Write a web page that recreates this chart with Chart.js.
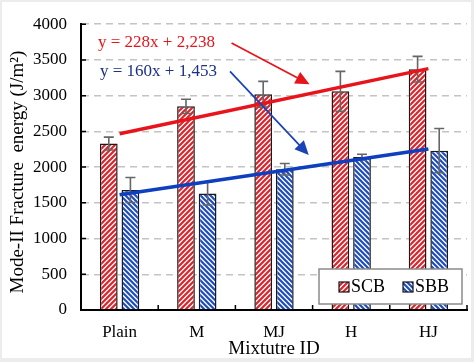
<!DOCTYPE html>
<html>
<head>
<meta charset="utf-8">
<script src="https://cdn.jsdelivr.net/npm/chart.js@4.4.1/dist/chart.umd.min.js"></script>
<style>
  html, body { margin: 0; padding: 0; background: #fff; }
  canvas { display: block; }
</style>
</head>
<body>
<canvas id="chart" width="474" height="362"></canvas>
<script>
// values
var categories = ['Plain', 'M', 'MJ', 'H', 'HJ'];
var scbValues = [2330, 2850, 3020, 3060, 3370];
var scbErrors = [90, 100, 180, 280, 180];
var sbbValues = [1680, 1630, 1970, 2140, 2230];
var sbbErrors = [175, 160, 80, 40, 310];
// trend lines, ends at Plain and HJ
var scbTrend = [2466, null, null, null, 3378];
var sbbTrend = [1613, null, null, null, 2253];
var yTicks = [0, 500, 1000, 1500, 2000, 2500, 3000, 3500, 4000];
var scbLabel = 'y = 228x + 2,238';
var sbbLabel = 'y = 160x + 1,453';

var SERIF = '"Liberation Serif", "DejaVu Serif", serif';
var RED = '#e8141b';
var BLUE = '#0d3fbf';

function makeStripes(color, flip) {
    var s = 5;
    var c = document.createElement('canvas');
    c.width = s; c.height = s;
    var g = c.getContext('2d');
    g.fillStyle = '#fff';
    g.fillRect(0, 0, s, s);
    g.strokeStyle = color;
    g.lineWidth = 2.2;
    if (flip) { g.translate(s, 0); g.scale(-1, 1); }
    g.beginPath();
    g.moveTo(0, s); g.lineTo(s, 0);
    g.moveTo(-1, 1); g.lineTo(1, -1);
    g.moveTo(s - 1, s + 1); g.lineTo(s + 1, s - 1);
    g.stroke();
    return document.getElementById('chart').getContext('2d').createPattern(c, 'repeat');
}

var scbFill = makeStripes('#e0222a', false);
var sbbFill = makeStripes('#1d4cc2', true);

function arrow(ctx, x1, y1, x2, y2, color) {
    var a = Math.atan2(y2 - y1, x2 - x1);
    var len = 14, w = 6.5;
    ctx.save();
    ctx.strokeStyle = color;
    ctx.fillStyle = color;
    ctx.lineWidth = 1.7;
    ctx.beginPath();
    ctx.moveTo(x1, y1);
    ctx.lineTo(x2 - Math.cos(a) * len * 0.8, y2 - Math.sin(a) * len * 0.8);
    ctx.stroke();
    ctx.beginPath();
    ctx.moveTo(x2, y2);
    ctx.lineTo(x2 - Math.cos(a) * len + Math.sin(a) * w, y2 - Math.sin(a) * len - Math.cos(a) * w);
    ctx.lineTo(x2 - Math.cos(a) * len - Math.sin(a) * w, y2 - Math.sin(a) * len + Math.cos(a) * w);
    ctx.closePath();
    ctx.fill();
    ctx.restore();
}

var extras = {
    id: 'extras',
    beforeDraw: function (chart) {
        var ctx = chart.ctx;
        ctx.save();
        ctx.fillStyle = '#ececec';
        ctx.fillRect(0, 0, chart.width, chart.height);
        ctx.fillStyle = '#fff';
        ctx.fillRect(2, 2, chart.width - 5, chart.height - 6);
        ctx.restore();
    },
    afterDatasetDraw: function (chart, args) {
        if (args.index > 1) return;
        var ctx = chart.ctx;
        var vals = args.index === 0 ? scbValues : sbbValues;
        var errs = args.index === 0 ? scbErrors : sbbErrors;
        var y = chart.scales.y;
        var meta = chart.getDatasetMeta(args.index);
        ctx.save();
        ctx.strokeStyle = '#666';
        ctx.lineWidth = 1.6;
        meta.data.forEach(function (bar, i) {
            var x = bar.x;
            var top = y.getPixelForValue(vals[i] + errs[i]);
            var bot = y.getPixelForValue(vals[i] - errs[i]);
            ctx.beginPath();
            ctx.moveTo(x, top); ctx.lineTo(x, bot);
            ctx.moveTo(x - 5, top); ctx.lineTo(x + 5, top);
            ctx.moveTo(x - 5, bot); ctx.lineTo(x + 5, bot);
            ctx.stroke();
        });
        ctx.restore();
    },
    afterDraw: function (chart) {
        var ctx = chart.ctx;
        var xs = chart.scales.x, ys = chart.scales.y;
        var area = chart.chartArea;
        var step = (area.right - area.left) / categories.length;
        function px(idx) { return xs.getPixelForValue(0) + idx * step; }

        ctx.save();
        // inward tick marks
        ctx.strokeStyle = '#000';
        ctx.lineWidth = 1.5;
        ctx.beginPath();
        yTicks.forEach(function (v) {
            var yy = ys.getPixelForValue(v);
            ctx.moveTo(area.left, yy); ctx.lineTo(area.left + 5, yy);
        });
        for (var k = 1; k <= categories.length; k++) {
            var xx = area.left + k * step;
            ctx.moveTo(xx, area.bottom); ctx.lineTo(xx, area.bottom - 5);
        }
        ctx.stroke();

        // trend equations and arrows
        ctx.font = '17px ' + SERIF;
        ctx.textBaseline = 'middle';
        ctx.textAlign = 'left';
        ctx.fillStyle = RED;
        ctx.fillText(scbLabel, 98, ys.getPixelForValue(3738));
        ctx.fillStyle = '#1c2f86';
        ctx.fillText(sbbLabel, 100, ys.getPixelForValue(3335));
        arrow(ctx, px(1.45), ys.getPixelForValue(3738), px(2.46), ys.getPixelForValue(3160), RED);
        arrow(ctx, px(1.43), ys.getPixelForValue(3340), px(2.45), ys.getPixelForValue(2170), '#1a44b5');

        // legend box
        ctx.fillStyle = '#fff';
        ctx.strokeStyle = '#8a8a8a';
        ctx.lineWidth = 1.5;
        ctx.fillRect(319, 269, 143, 35);
        ctx.strokeRect(319, 269, 143, 35);
        var items = [[scbFill, 'SCB', 339], [sbbFill, 'SBB', 403]];
        ctx.font = '18px ' + SERIF;
        items.forEach(function (it) {
            ctx.fillStyle = it[0];
            ctx.fillRect(it[2], 282, 10, 10);
            ctx.strokeStyle = '#111';
            ctx.lineWidth = 1.2;
            ctx.strokeRect(it[2], 282, 10, 10);
            ctx.fillStyle = '#000';
            ctx.fillText(it[1], it[2] + 12, 287.5);
        });

        // axis titles
        ctx.fillStyle = '#000';
        ctx.font = '19px ' + SERIF;
        ctx.textAlign = 'center';
        ctx.fillText('Mixtutre ID', (area.left + area.right) / 2, 349);
        ctx.translate(18, (area.top + area.bottom) / 2 + 5);
        ctx.rotate(-Math.PI / 2);
        ctx.fillText('Mode-II Fracture  energy (J/m\u00b2)', 0, 0);
        ctx.restore();
    }
};

new Chart('chart', {
    type: 'bar',
    plugins: [extras],
    data: {
        labels: categories,
        datasets: [{
            label: 'SCB',
            data: scbValues,
            backgroundColor: scbFill,
            borderColor: '#1a1a1a',
            borderWidth: 1.5,
            barPercentage: 0.82,
            categoryPercentage: 0.56,
            order: 3
        }, {
            label: 'SBB',
            data: sbbValues,
            backgroundColor: sbbFill,
            borderColor: '#1a1a1a',
            borderWidth: 1.5,
            barPercentage: 0.82,
            categoryPercentage: 0.56,
            order: 3
        }, {
            type: 'line',
            label: 'SCB trend',
            data: scbTrend,
            borderColor: RED,
            borderWidth: 3.5,
            pointRadius: 0,
            spanGaps: true,
            order: 1
        }, {
            type: 'line',
            label: 'SBB trend',
            data: sbbTrend,
            borderColor: BLUE,
            borderWidth: 3.5,
            pointRadius: 0,
            spanGaps: true,
            order: 1
        }]
    },
    options: {
        responsive: false,
        animation: false,
        devicePixelRatio: 1,
        layout: { padding: { left: 2, top: 23, right: 7, bottom: 0 } },
        plugins: {
            legend: { display: false },
            tooltip: { enabled: false }
        },
        scales: {
            x: {
                grid: { display: false, drawTicks: false },
                border: { display: true, color: '#000', width: 2 },
                ticks: {
                    color: '#000',
                    padding: 12,
                    font: { family: SERIF, size: 17 }
                },
                afterFit: function (s) { s.height = 52; }
            },
            y: {
                min: 0,
                max: 4000,
                grid: {
                    drawTicks: false,
                    color: function (c) { return c.tick.value === 0 ? 'rgba(0,0,0,0)' : '#c4c4c4'; },
                    lineWidth: 1.5
                },
                border: { display: true, color: '#000', width: 2, dash: [7, 5] },
                ticks: {
                    stepSize: 500,
                    color: '#000',
                    padding: 14,
                    font: { family: SERIF, size: 17 },
                    callback: function (v) { return String(v); }
                },
                afterFit: function (s) { s.width = 79; }
            }
        }
    }
});
</script>
</body>
</html>
